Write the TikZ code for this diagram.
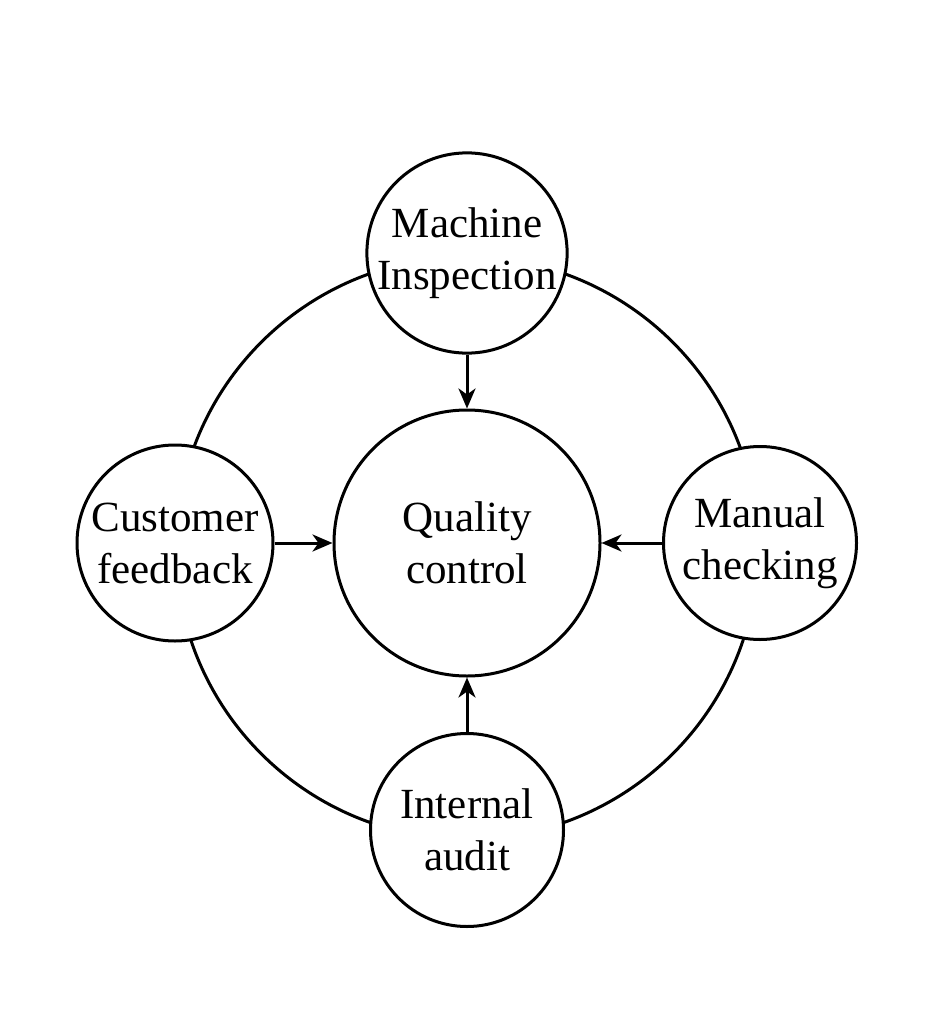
\documentclass[tikz,border=0pt]{standalone}
\usepackage{fontspec}
\setmainfont{Liberation Serif}
\usetikzlibrary{arrows.meta}
\begin{document}
\begin{tikzpicture}[x=1pt,y=-1pt,
  sat/.style={circle,draw,line width=3pt,fill=white,minimum size=196pt,inner sep=0pt,align=center,font=\fontsize{43}{52}\selectfont},
  arr/.style={line width=3pt,-{Stealth[length=20pt,width=17pt,inset=6pt]}}]
\useasboundingbox (0,0) rectangle (936,1024);
\draw[line width=3pt] (467,548) circle (291);
\node[sat,minimum size=266pt] (qc) at (467,543) {Quality\\control};
\node[sat] (mi) at (467,253) {Machine\\Inspection};
\node[sat] (cf) at (175,543) {Customer\\feedback};
\node[sat,minimum size=193pt] (mc) at (760,543) {Manual\\checking};
\node[sat,minimum size=193pt] (ia) at (467,830) {Internal\\audit};
\draw[arr] (mi) -- (qc);
\draw[arr] (cf) -- (qc);
\draw[arr] (mc) -- (qc);
\draw[arr] (ia) -- (qc);
\end{tikzpicture}
\end{document}
